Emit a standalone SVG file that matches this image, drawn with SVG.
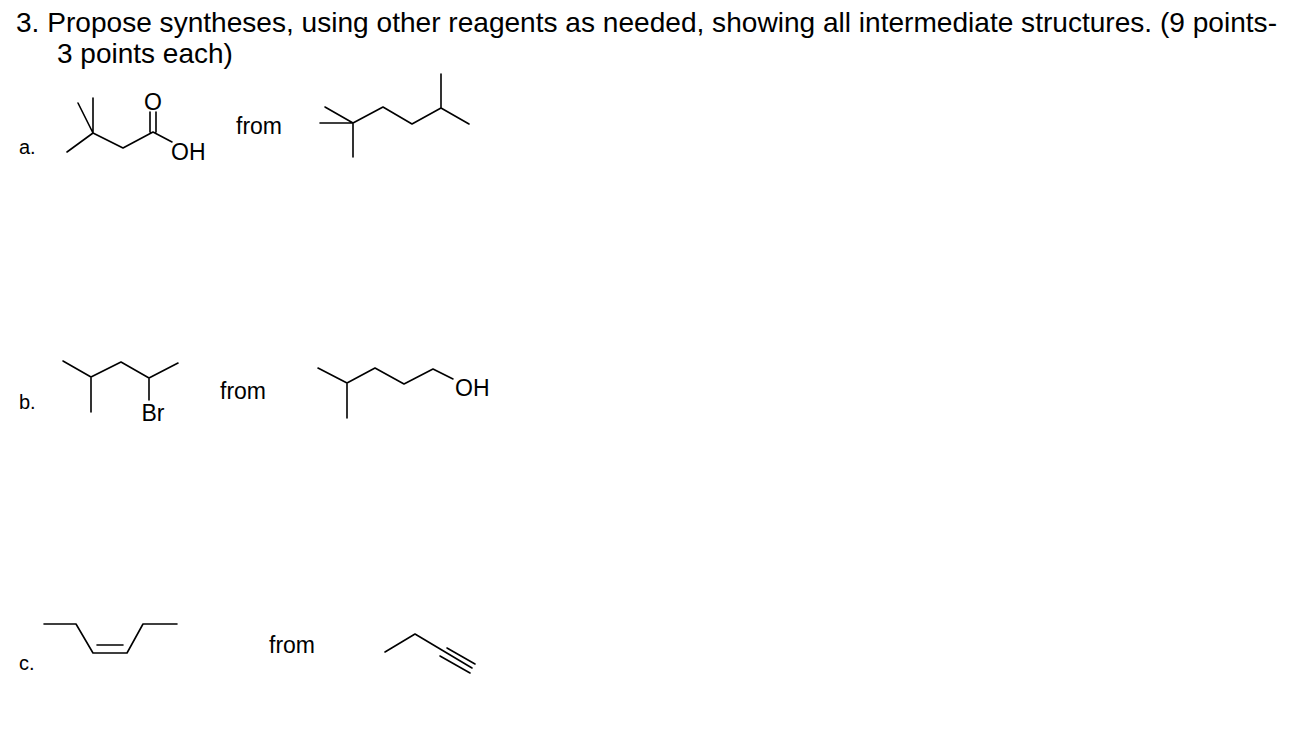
<svg xmlns="http://www.w3.org/2000/svg" width="1305" height="746" viewBox="0 0 1305 746">
<style>
text{font-family:"Liberation Sans",Arial,sans-serif;fill:#000}
.t{font-size:28px}.l{font-size:20px}.c{font-size:23px}
.b{stroke:#000;stroke-width:1.6;fill:none;stroke-linecap:round;stroke-linejoin:round}
</style>
<rect width="1305" height="746" fill="#fff"/>
<text class="t" x="16" y="32" textLength="1261" lengthAdjust="spacingAndGlyphs">3.  Propose syntheses, using other reagents as needed, showing all intermediate structures. (9 points-</text>
<text class="t" x="57" y="63">3 points each)</text>
<text class="l" x="19" y="154">a.</text>
<text class="l" x="19" y="409">b.</text>
<text class="l" x="19" y="670">c.</text>
<g id="acid">
<path class="b" d="M67,152 L93,133 L78,103 M93,133 L93,98 M93,133 L123,148 L153,132 L172,142 M150,132 L150,112 M156,132 L156,112"/>
<text class="c" x="153" y="110" text-anchor="middle">O</text>
<text class="c" x="171" y="160">OH</text>
</g>
<text class="c" x="236" y="134">from</text>
<g id="alkane-a">
<path class="b" d="M320,123 L353,123 L325,107 M353,123 L353,157 M353,123 L383,107 L412,124 L441,108 L441,74 M441,108 L469,124"/>
</g>
<g id="bromide">
<path class="b" d="M63,361 L91,377 L91,412 M91,377 L121,362 L149,378 L178,363 M149,378 L149,400"/>
<text class="c" x="153" y="421" text-anchor="middle">Br</text>
</g>
<text class="c" x="220" y="399">from</text>
<g id="alcohol">
<path class="b" d="M318,368 L347,383 L347,418 M347,383 L375,368 L404,384 L433,369 L453,379"/>
<text class="c" x="455" y="396">OH</text>
</g>
<g id="alkene">
<path class="b" d="M44,624 L76,624 L93,653 L127,653 L143,624 L177,624 M97,645 L123,645"/>
</g>
<text class="c" x="269" y="653">from</text>
<g id="alkyne">
<path class="b" d="M385,652 L415,634 L472,668 M447,648 L475,664 M440,656 L470,673"/>
</g>
</svg>
